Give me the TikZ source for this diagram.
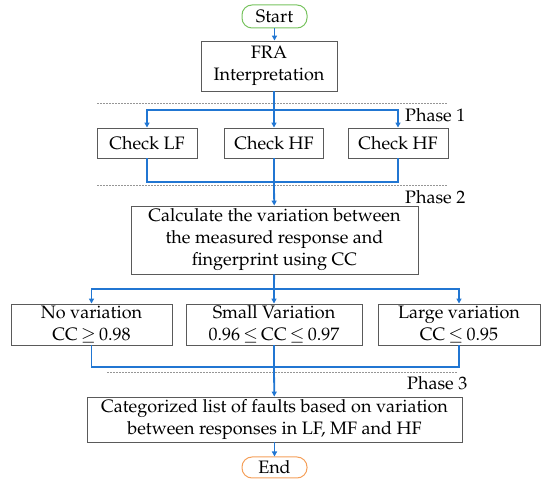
\documentclass[tikz,border=0pt]{standalone}
\usepackage[T1]{fontenc}
\usepackage{mathpazo}
\usepackage{xcolor}
\usepackage{tikz}
\usetikzlibrary{positioning,arrows.meta}

\definecolor{flowblue}{RGB}{33,118,210}
\definecolor{startgreen}{RGB}{120,195,95}
\definecolor{endorange}{RGB}{245,160,90}
\definecolor{boxgrey}{RGB}{90,90,90}
\definecolor{phasegrey}{RGB}{150,150,150}

\begin{document}
\begin{tikzpicture}[x=1pt,y=-1pt,
    box/.style={rectangle, draw=boxgrey, line width=0.9pt, align=center, inner sep=0pt, font=\fontsize{18}{22}\selectfont},
    terminal/.style={rectangle, rounded corners=10pt, line width=1pt, inner sep=0pt, minimum width=65pt, font=\fontsize{18}{22}\selectfont},
    phase/.style={inner sep=0pt, anchor=west, font=\fontsize{18}{22}\selectfont},
    flow/.style={draw=flowblue, line width=1.8pt},
    flowarrow/.style={flow, -{Triangle[length=5pt,width=5pt]}},
    phaseline/.style={draw=phasegrey, line width=0.6pt, dash pattern=on 2pt off 1pt}
]
    \useasboundingbox (0,0) rectangle (550,489);

    \node(start) [terminal, draw=startgreen, minimum height=23pt] at (274.5,16.5) {Start};
    \node(fra) [box, minimum width=136pt, minimum height=50pt] at (269,66) {FRA\\Interpretation};
    \node(checklf) [box, minimum width=100pt, minimum height=30pt] at (147,143) {Check LF};
    \node(checkhf) [box, minimum width=99pt, minimum height=30pt] at (274,143) {Check HF};
    \node(checkhfb) [box, minimum width=100pt, minimum height=30pt] at (398,143) {Check HF};
    \node(calc) [box, minimum width=287pt, minimum height=68pt] at (274.5,240) {Calculate the variation between\\the measured response and\\fingerprint using CC};
    \node(novar) [box, minimum width=161pt, minimum height=41pt] at (91.5,324.5) {No variation\\CC\,$\geq$\,0.98};
    \node(smallvar) [box, minimum width=176pt, minimum height=41pt] at (274,324.5) {Small Variation\\0.96\,$\leq$\,CC\,$\leq$\,0.97};
    \node(largevar) [box, minimum width=162pt, minimum height=41pt] at (459,324.5) {Large variation\\CC\,$\leq$\,0.95};
    \node(faults) [box, minimum width=375pt, minimum height=45pt] at (274.5,419.5) {Categorized list of faults based on variation\\between responses in LF, MF and HF};
    \node(end) [terminal, draw=endorange, minimum height=21pt] at (274.5,467.5) {End};

    % phase separators
    \draw[phaseline] (97,103) -- (447,103);
    \draw[phaseline] (97,185) -- (447,185);
    \draw[phaseline] (107,372) -- (457,372);
    \node(phaseone) [phase] at (405,115) {Phase 1};
    \node(phasetwo) [phase] at (405,197) {Phase 2};
    \node(phasethree) [phase] at (407,383) {Phase 3};

    \coordinate (split1) at (274,110);
    \coordinate (merge1) at (274,182);
    \coordinate (split2) at (274,289);
    \coordinate (merge2) at (274,367);

    \draw[flowarrow] (start) -- (start |- fra.north);
    \draw[flow] (fra.south -| split1) -- (split1);
    \draw[flowarrow] (split1) -| (checklf);
    \draw[flowarrow] (split1) -- (checkhf);
    \draw[flowarrow] (split1) -| (checkhfb);
    \draw[flow] (checklf) |- (merge1);
    \draw[flow] (checkhfb) |- (merge1);
    \draw[flow] (checkhf) -- (merge1);
    \draw[flowarrow] (merge1) -- (calc);
    \draw[flow] (calc) -- (split2);
    \draw[flowarrow] (split2) -| (novar);
    \draw[flowarrow] (split2) -- (smallvar);
    \draw[flowarrow] (split2) -| (largevar);
    \draw[flow] (novar) |- (merge2);
    \draw[flow] (largevar) |- (merge2);
    \draw[flow] (smallvar) -- (merge2);
    \draw[flowarrow] (merge2) -- (faults);
    \draw[flowarrow] (faults) -- (end);
\end{tikzpicture}
\end{document}
